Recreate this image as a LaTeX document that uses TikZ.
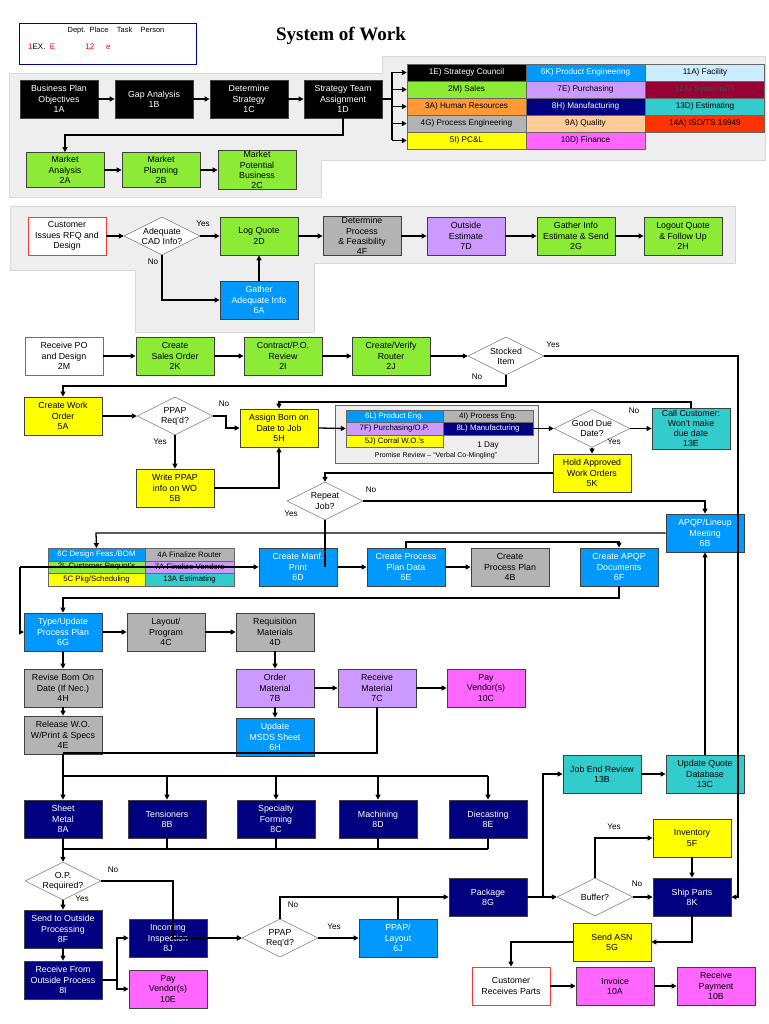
\documentclass[tikz,border=0pt]{standalone}
\usepackage{fontspec}
\setmainfont{Liberation Sans}
\newfontfamily\serifb{Liberation Serif}
\usetikzlibrary{shapes.geometric,arrows.meta}
\definecolor{cgreen}{HTML}{8CEB34}
\definecolor{cyel}{HTML}{FFFF00}
\definecolor{cblue}{HTML}{0099FF}
\definecolor{cnavy}{HTML}{000080}
\definecolor{cgray}{HTML}{B3B3B3}
\definecolor{clav}{HTML}{CC99FF}
\definecolor{cmag}{HTML}{FF66FF}
\definecolor{cteal}{HTML}{33CCCC}
\definecolor{corange}{HTML}{FF9933}
\definecolor{cpeach}{HTML}{FFCC99}
\definecolor{clblue}{HTML}{CCECFF}
\definecolor{cdred}{HTML}{990033}
\definecolor{cred}{HTML}{FF3300}
\definecolor{cpanel}{HTML}{EEEEEE}
\newcommand\fsz{\fontsize{8.8}{10.2}\selectfont}
\newcommand\fst{\fontsize{8.2}{9}\selectfont}
\begin{document}
\begin{tikzpicture}[x=1pt,y=-1pt,
 b/.style={draw=black!75,line width=0.8pt,minimum width=78pt,minimum height=38pt,align=center,inner sep=1pt,font=\fsz},
 K/.style={b,fill=black,text=white},
 G/.style={b,fill=cgreen},
 Y/.style={b,fill=cyel},
 B/.style={b,fill=cblue,text=white},
 N/.style={b,fill=cnavy,text=white},
 R/.style={b,fill=cgray},
 L/.style={b,fill=clav},
 M/.style={b,fill=cmag},
 T/.style={b,fill=cteal},
 O/.style={b,fill=white,draw=red!80},
 c/.style={draw=black!60,minimum width=119pt,minimum height=17pt,inner sep=0pt,font=\fst},
 s/.style={draw=black!60,minimum height=12.5pt,inner sep=0pt,font=\fontsize{7.8}{8.5}\selectfont},
 dm/.style={diamond,draw=black!60,fill=white,minimum width=76pt,minimum height=38pt,inner sep=0pt,font=\fsz,align=center},
 arr/.style={-{Triangle[length=5pt,width=5pt]},line width=1.3pt},
 ln/.style={line width=1.2pt},
 lb/.style={font=\fst}]
\useasboundingbox (0,0) rectangle (768,1024);
% legend and title
\node[draw=blue!60!black,minimum width=177pt,minimum height=41pt] (leg) at (107.5,43.5) {};
\node[font=\fontsize{7.5}{8}\selectfont] (legh) at (116,31) {Dept.\ \ Place\ \ \ \ Task\ \ \ \ Person};
\node[font=\fontsize{8}{9}\selectfont,anchor=west,inner sep=0] (lex) at (28,47) {\textcolor{red}{1}EX.\ \ \textcolor{red}{E}\hspace{30pt}\textcolor{red}{12}\hspace{12pt}\textcolor{red}{e}};
\node[font=\serifb\bfseries\fontsize{19}{21}\selectfont] (title) at (341,36) {System of Work};
% panels
\fill[cpanel,draw=black!15] (9,73) -- (382,73) -- (382,56) -- (765,56) -- (765,160) -- (321,160) -- (321,197) -- (9,197) -- cycle;
\fill[cpanel,draw=black!15] (10,206) -- (735,206) -- (735,263) -- (314,263) -- (314,332) -- (135,332) -- (135,270) -- (10,270) -- cycle;
% section 1
\node[K] (a1) at (59,99) {Business Plan\\Objectives\\1A};
\node[K] (b1) at (154,99) {Gap Analysis\\1B};
\node[K] (c1) at (249,99) {Determine\\Strategy\\1C};
\node[K] (d1) at (343,99) {Strategy Team\\Assignment\\1D};
\node[G,minimum height=35pt] (a2) at (65,170) {Market\\Analysis\\2A};
\node[G,minimum height=35pt] (b2) at (161,170) {Market\\Planning\\2B};
\node[G,minimum height=35pt] (c2) at (257,170) {Market\\Potential\\Business\\2C};
\draw[arr] (a1) -- (b1); \draw[arr] (b1) -- (c1); \draw[arr] (c1) -- (d1);
\draw[arr] (d1.south) -- (343,135) -- (65,135) -- (a2.north);
\draw[arr] (a2) -- (b2); \draw[arr] (b2) -- (c2);
\node[c,fill=black,text=white] (t1e) at (466.5,72.5) {1E) Strategy Council};
\node[c,fill=cgreen] (t2m) at (466.5,89.5) {2M) Sales};
\node[c,fill=corange] (t3a) at (466.5,106.5) {3A) Human Resources};
\node[c,fill=cgray] (t4g) at (466.5,123.5) {4G) Process Engineering};
\node[c,fill=cyel] (t5i) at (466.5,140.5) {5I) PC\&L};
\node[c,fill=cblue,text=white] (t6k) at (585.5,72.5) {6K) Product Engineering};
\node[c,fill=clav] (t7e) at (585.5,89.5) {7E) Purchasing};
\node[c,fill=cnavy,text=white] (t8h) at (585.5,106.5) {8H) Manufacturing};
\node[c,fill=cpeach] (t9a) at (585.5,123.5) {9A) Quality};
\node[c,fill=cmag] (t10d) at (585.5,140.5) {10D) Finance};
\node[c,fill=clblue] (t11a) at (705,72.5) {11A) Facility};
\node[c,fill=cdred,text=black!70] (t12a) at (705,89.5) {12A) Systems/IT};
\node[c,fill=cteal] (t13d) at (705,106.5) {13D) Estimating};
\node[c,fill=cred] (t14a) at (705,123.5) {14A) ISO/TS 16949};
\coordinate (bus1) at (392,99);
\draw[ln] (d1.east) -- (bus1); \draw[ln] (392,72.5) -- (392,140.5);
\foreach \n in {t1e,t2m,t3a,t4g,t5i} \draw[arr] (bus1 |- \n.west) -- (\n.west);
% section 2
\node[O] (rfq) at (67,236) {Customer\\Issues RFQ and\\Design};
\node[dm] (cad) at (162,236) {}; \node[font=\fsz,align=center] (cadt) at (162,236) {Adequate\\CAD Info?};
\node[G] (d2) at (259,236) {Log Quote\\2D};
\node[R] (f4) at (362,236) {Determine\\Process\\\& Feasibility\\4F};
\node[L] (d7) at (466,236) {Outside\\Estimate\\7D};
\node[G] (g2) at (576,236) {Gather Info\\Estimate \& Send\\2G};
\node[G] (h2) at (683,236) {Logout Quote\\\& Follow Up\\2H};
\node[B] (a6) at (259,300) {Gather\\Adequate Info\\6A};
\draw[arr] (rfq) -- (cad); \draw[arr] (cad) -- (d2); \draw[arr] (d2) -- (f4); \draw[arr] (f4) -- (d7); \draw[arr] (d7) -- (g2); \draw[arr] (g2) -- (h2);
\draw[arr] (cad.south) -- (162,300) -- (a6.west); \draw[arr] (a6) -- (d2);
\node[lb] (y1) at (203,224) {Yes}; \node[lb] (n1) at (153,262) {No};
% section 3
\node[O] (m2) at (64,356) {Receive PO\\and Design\\2M};
\node[G] (k2) at (175,356) {Create\\Sales Order\\2K};
\node[G] (i2) at (283,356) {Contract/P.O.\\Review\\2I};
\node[G] (j2) at (391,356) {Create/Verify\\Router\\2J};
\node[dm] (stk) at (506,356) {}; \node[font=\fsz,align=center] (stkt) at (506,356) {Stocked\\Item};
\draw[arr] (m2) -- (k2); \draw[arr] (k2) -- (i2); \draw[arr] (i2) -- (j2); \draw[arr] (j2) -- (stk);
\node[lb] (y2) at (553,345) {Yes}; \node[lb] (n2) at (477,377) {No};
\node[Y] (a5) at (63,416) {Create Work\\Order\\5A};
\node[dm] (pp) at (175,416) {}; \node[font=\fsz,align=center] (ppt) at (175,416) {PPAP\\Req'd?};
\node[Y] (h5) at (279,428) {Assign Born on\\Date to Job\\5H};
\node[Y] (b5) at (175,488) {Write PPAP\\info on WO\\5B};
\draw[arr] (stk.south) -- (506,386) -- (63,386) -- (a5.north);
\draw[arr] (a5.east) -- (pp.west);
\draw[arr] (pp.east) -- (226,416) -- (226,428) -- (h5.west);
\draw[arr] (pp.south) -- (b5.north);
\draw[arr] (b5.east) -- (279,488) -- (h5.south);
\node[lb] (n3) at (224,404) {No}; \node[lb] (y3) at (160,442) {Yes};
\node[draw=black!60,fill=cpanel,minimum width=203pt,minimum height=58pt,inner sep=0] (pr) at (436.5,434) {};
\node[s,fill=cblue,text=white,minimum width=97pt] (l6) at (394.5,416) {6L) Product Eng.};
\node[s,fill=cgray,minimum width=90pt] (i4) at (488,416) {4I) Process Eng.};
\node[s,fill=clav,minimum width=97pt] (f7) at (394.5,428.5) {7F) Purchasing/O.P.};
\node[s,fill=cnavy,text=white,minimum width=90pt] (l8) at (488,428.5) {8L) Manufacturing};
\node[s,fill=cyel,minimum width=97pt] (j5) at (394.5,441) {5J) Corral W.O.'s};
\node[font=\fst] (day) at (488,446) {1 Day};
\node[font=\fontsize{7}{8}\selectfont] (prt) at (436,456) {Promise Review -- ``Verbal Co-Mingling''};
\draw[arr] (h5.east) -- (f7.west);
\node[dm] (gd) at (592,428.5) {}; \node[font=\fsz,align=center] (gdt) at (592,428.5) {Good Due\\Date?};
\node[T,minimum height=41pt] (e13) at (691,428.5) {Call Customer:\\Won't make\\due date\\13E};
\node[Y] (k5) at (592,473) {Hold Approved\\Work Orders\\5K};
\draw[arr] (l8.east) -- (gd.west); \draw[arr] (gd.east) -- (e13.west);
\draw[arr] (e13.north) -- (691,402) -- (279,402) -- (h5.north);
\draw[arr] (gd.south) -- (k5.north);
\node[lb] (n4) at (634,411) {No}; \node[lb] (y4) at (614,442) {Yes};
\node[dm] (rp) at (325,501) {}; \node[font=\fsz,align=center] (rpt) at (325,501) {Repeat\\Job?};
\draw[arr] (k5.west) -- (325,473) -- (rp.north);
\node[lb] (n5) at (371,490) {No}; \node[lb] (y5) at (291,514) {Yes};
\node[B] (b6) at (705,533) {APQP/Lineup\\Meeting\\6B};
\draw[arr] (rp.east) -- (705,501) -- (b6.north);
\node[s,fill=cblue,text=white,minimum width=97pt] (c6) at (96.5,554.5) {6C Design Feas./BOM};
\node[s,fill=cgray,minimum width=89pt] (a4) at (189.5,554.5) {4A Finalize Router};
\node[s,fill=cgreen,minimum width=97pt] (l2) at (96.5,567) {2L Customer Requnt's};
\node[s,fill=clav,minimum width=89pt] (a7) at (189.5,567) {7A Finalize Vendors};
\node[s,fill=cyel,minimum width=97pt] (c5) at (96.5,579.5) {5C Pkg/Scheduling};
\node[s,fill=cteal,minimum width=89pt] (a13) at (189.5,579.5) {13A Estimating};
\draw[arr] (b6.west) -- (96,533) -- (c6.north);
\node[B] (d6) at (298,567) {Create Manf.\\Print\\6D};
\node[B] (e6) at (406,567) {Create Process\\Plan Data\\6E};
\node[R] (b4) at (510,567) {Create\\Process Plan\\4B};
\node[B] (f6) at (619,567) {Create APQP\\Documents\\6F};
\coordinate (yl) at (20,567);
\draw[ln] (rp.south) -- (325,567);
\draw[arr] (yl) -- (d6.west);
\draw[arr] (yl) -- (20,632) -- (24,632);
\draw[arr] (d6) -- (e6); \draw[arr] (e6) -- (b4);
\draw[arr] (e6.north) -- (406,542) -- (619,542) -- (f6.north);
\node[B] (g6) at (63,632) {Type/Update\\Process Plan\\6G};
\node[R] (c4) at (166,632) {Layout/\\Program\\4C};
\node[R] (d4) at (275,632) {Requisition\\Materials\\4D};
\draw[arr] (f6.south) -- (619,598) -- (63,598) -- (g6.north);
\draw[arr] (g6) -- (c4); \draw[arr] (c4) -- (d4);
\node[R] (h4) at (63,688) {Revise Born On\\Date (If Nec.)\\4H};
\node[R] (e4) at (63,735) {Release W.O.\\W/Print \& Specs\\4E};
\node[L] (b7) at (275,688) {Order\\Material\\7B};
\node[L] (c7) at (377,688) {Receive\\Material\\7C};
\node[M] (c10) at (486,688) {Pay\\Vendor(s)\\10C};
\node[B] (h6) at (275,737) {Update\\MSDS Sheet\\6H};
\draw[arr] (g6) -- (h4); \draw[arr] (h4) -- (e4);
\draw[arr] (d4) -- (b7); \draw[arr] (b7) -- (c7); \draw[arr] (c7) -- (c10); \draw[arr] (b7) -- (h6);
\draw[ln] (c7.south) -- (377,753) -- (63,753);
% manufacturing
\node[N] (a8) at (63,819) {Sheet\\Metal\\8A};
\node[N] (b8) at (167,819) {Tensioners\\8B};
\node[N] (c8) at (276,819) {Specialty\\Forming\\8C};
\node[N] (d8) at (378,819) {Machining\\8D};
\node[N] (e8) at (488,819) {Diecasting\\8E};
\draw[ln] (e4.south) -- (63,776) -- (488,776);
\foreach \n in {a8,b8,c8,d8,e8} {\draw[arr] (\n.north |- 0,776) -- (\n.north); \draw[ln] (\n.south) -- (\n.south |- 0,849);}
\draw[ln] (63,849) -- (488,849);
\node[dm] (op) at (63,881) {}; \node[font=\fsz,align=center] (opt) at (63,881) {O.P.\\Required?};
\draw[arr] (63,849) -- (op.north);
\node[lb] (n6) at (113,870) {No}; \node[lb] (y6) at (82,899) {Yes};
\node[N] (f8) at (63,929) {Send to Outside\\Processing\\8F};
\node[N] (i8) at (63,980) {Receive From\\Outside Process\\8I};
\node[N] (j8) at (168,938) {Incoming\\Inspection\\8J};
\node[M] (e10) at (168,989) {Pay\\Vendor(s)\\10E};
\draw[arr] (op.south) -- (f8.north); \draw[arr] (f8) -- (i8);
\draw[ln] (i8.east) -- (117,980);
\draw[arr] (117,980) -- (117,938) -- (j8.west);
\draw[arr] (117,980) -- (117,989) -- (e10.west);
\node[dm] (pp2) at (280,938) {}; \node[font=\fsz,align=center] (pp2t) at (280,938) {PPAP\\Req'd?};
\draw[arr] (op.east) -- (173,881) -- (173,938) -- (pp2.west);
\draw[arr] (j8.east) -- (pp2.west);
\node[lb] (n7) at (293,905) {No}; \node[lb] (y7) at (334,927) {Yes};
\node[B] (j6) at (398,938) {PPAP/\\Layout\\6J};
\node[N] (g8) at (488,897) {Package\\8G};
\draw[arr] (pp2.east) -- (j6.west);
\draw[arr] (pp2.north) -- (280,897) -- (g8.west);
\draw[ln] (j6.north) -- (398,897);
\node[dm] (bf) at (595,897) {}; \node[font=\fsz] (bft) at (595,897) {Buffer?};
\node[T] (b13) at (602,774) {Job End Review\\13B};
\node[T] (c13) at (705,774) {Update Quote\\Database\\13C};
\node[Y] (f5) at (692,838) {Inventory\\5F};
\node[N] (k8) at (692,897) {Ship Parts\\8K};
\draw[arr] (g8.east) -- (bf.west);
\draw[arr] (543,897) -- (543,774) -- (b13.west);
\draw[arr] (b13) -- (c13);
\draw[arr] (c13.north) -- (b6.south);
\draw[arr] (bf.north) -- (595,838) -- (f5.west);
\draw[arr] (f5) -- (k8); \draw[arr] (bf.east) -- (k8.west);
\node[lb] (y8) at (614,827) {Yes}; \node[lb] (n8) at (637,884) {No};
\draw[arr] (stk.east) -- (738,356) -- (738,897) -- (k8.east);
\node[Y] (g5) at (612,942) {Send ASN\\5G};
\node[O] (cr) at (511,986) {Customer\\Receives Parts};
\node[M] (a10) at (615,986) {Invoice\\10A};
\node[M] (b10) at (716,986) {Receive\\Payment\\10B};
\draw[arr] (k8.south) -- (692,942) -- (g5.east);
\draw[arr] (g5.west) -- (511,942) -- (cr.north);
\draw[arr] (cr) -- (a10); \draw[arr] (a10) -- (b10);
\end{tikzpicture}
\end{document}
